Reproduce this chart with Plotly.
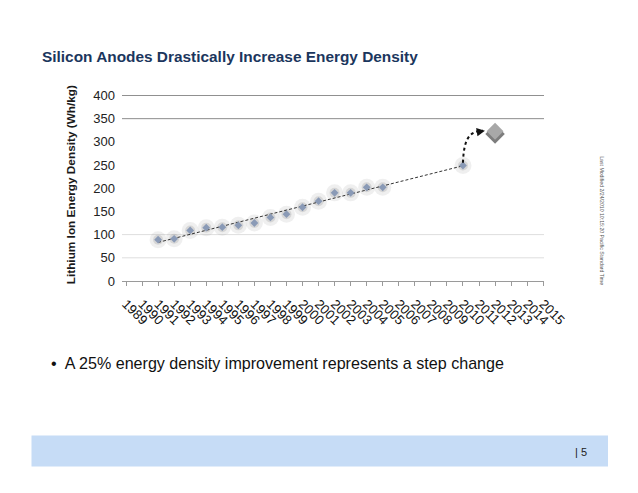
import numpy as np
import plotly.graph_objects as go

# ---- data ----
years = [1991, 1992, 1993, 1994, 1995, 1996, 1997, 1998, 1999, 2000,
         2001, 2002, 2003, 2004, 2005, 2010]
energy_density = [89, 91, 109, 115, 116, 120, 125, 137, 144, 159,
                  172, 190, 190, 202, 202, 249]
silicon_year = [2012]
silicon_density = [322]
tick_years = list(range(1989, 2016))
tick_labels = [str(y) for y in tick_years]
y_ticks = [0, 50, 100, 150, 200, 250, 300, 350, 400]

title_text = "Silicon Anodes Drastically Increase Energy Density"
y_title = "Lithium Ion Energy Density (Wh/kg)"
bullet_text = "\u2022  A 25% energy density improvement represents a step change"
page_text = "| 5"
side_text = "Last Modified 2/24/2010 10:15:20 Pacific Standard Time"

FONT = "Liberation Sans, Arial, sans-serif"

# ---- layout geometry helpers (page body has an 8px margin) ----
W, H = 638, 493
OFF = 8
PW, PH = 422, 186.5
L, T = 122 - OFF, 94.5 - OFF
R, B = W - L - PW, H - T - PH


def px(xp):
    return (xp - OFF - L) / PW


def py(yp):
    return (T + PH - (yp - OFF)) / PH


fig = go.Figure()

# soft shadows behind the data points
fig.add_trace(go.Scatter(x=years, y=energy_density, mode="markers",
                         marker=dict(size=17, color="rgba(165,165,165,0.18)"),
                         hoverinfo="skip", showlegend=False))
fig.add_trace(go.Scatter(x=years, y=energy_density, mode="markers",
                         marker=dict(size=10, color="rgba(150,150,150,0.28)"),
                         hoverinfo="skip", showlegend=False))

# linear trend line (least-squares fit of the data)
coef = np.polyfit(years, energy_density, 1)
trend_x = [years[0], years[-1]]
trend_y = list(np.polyval(coef, trend_x))
fig.add_trace(go.Scatter(x=trend_x, y=trend_y, mode="lines",
                         line=dict(color="#333333", width=1, dash="3px,2px"),
                         hoverinfo="skip", showlegend=False))

# data points
fig.add_trace(go.Scatter(x=years, y=energy_density, mode="markers",
                         marker=dict(symbol="diamond", size=6, color="#8a9ab6"),
                         showlegend=False))

# silicon point (3D-looking diamond)
fig.add_trace(go.Scatter(x=silicon_year, y=[v - 5 for v in silicon_density],
                         mode="markers",
                         marker=dict(symbol="diamond", size=15, color="#7d7d7d"),
                         hoverinfo="skip", showlegend=False))
fig.add_trace(go.Scatter(x=silicon_year, y=[v + 1 for v in silicon_density],
                         mode="markers",
                         marker=dict(symbol="diamond", size=13, color="#a8a8a8"),
                         showlegend=False))

# curved dotted arrow from last point to silicon point
x0, y0 = years[-1], energy_density[-1] + 6
x1, y1 = silicon_year[0] - 0.75, silicon_density[0] + 2
path = f"M {x0},{y0} C {x0 + 0.05},{y0 + 45} {x0 + 0.3},{y1} {x1},{y1}"
shapes = [dict(type="path", path=path, xref="x", yref="y",
               line=dict(color="#111111", width=2, dash="dot"))]

# gridlines (top dark, bottom light, as in reference)
for gv, gc in [(400, "#8c8c8c"), (350, "#8c8c8c"), (100, "#dedede"), (50, "#dedede")]:
    shapes.append(dict(type="line", xref="paper", yref="y", x0=0, x1=1, y0=gv, y1=gv,
                       line=dict(color=gc, width=1), layer="below"))

# footer band
shapes.append(dict(type="rect", xref="paper", yref="paper",
                   x0=px(31.5), x1=px(608), y0=py(467), y1=py(436),
                   fillcolor="#c6dcf6", line=dict(width=0), layer="below"))

annotations = [
    dict(x=x1 + 0.12, y=y1, xref="x", yref="y", text="", showarrow=True,
         ax=-6, ay=1, arrowhead=2, arrowsize=1.1, arrowwidth=1.5, arrowcolor="#111111"),
    dict(x=px(40), y=py(56), xref="paper", yref="paper", text=title_text,
         showarrow=False, xanchor="left", yanchor="middle",
         font=dict(family=FONT, size=15.4, color="#1b365d", weight="bold")),
    dict(x=px(71), y=py(185), xref="paper", yref="paper", text=y_title,
         showarrow=False, textangle=-90, xanchor="center", yanchor="middle",
         font=dict(family=FONT, size=11.8, color="#1a1a1a", weight="bold")),
    dict(x=px(49), y=py(363), xref="paper", yref="paper", text=bullet_text,
         showarrow=False, xanchor="left", yanchor="middle",
         font=dict(family=FONT, size=16.1, color="#111111")),
    dict(x=px(573), y=py(452), xref="paper", yref="paper", text=page_text,
         showarrow=False, xanchor="left", yanchor="middle",
         font=dict(family=FONT, size=11, color="#222222")),
    dict(x=px(602), y=py(220), xref="paper", yref="paper", text=side_text,
         showarrow=False, textangle=90, xanchor="center", yanchor="middle",
         font=dict(family=FONT, size=5.2, color="#555555")),
]

fig.update_layout(
    width=W, height=H,
    margin=dict(l=L, r=R, t=T, b=B),
    paper_bgcolor="white", plot_bgcolor="white",
    showlegend=False,
    font=dict(family=FONT, color="#222222"),
    shapes=shapes, annotations=annotations,
    xaxis=dict(range=[1988.75, 2015.05], tickmode="array", tickvals=tick_years,
               ticktext=tick_labels, tickangle=45, ticks="outside", ticklen=4,
               tickcolor="#9a9a9a", showline=True, linecolor="#9a9a9a",
               showgrid=False, zeroline=False, ticklabelstandoff=5,
               tickfont=dict(family=FONT, size=13.2, color="#111111")),
    yaxis=dict(range=[0, 401], tickmode="array", tickvals=y_ticks,
               showgrid=False, zeroline=False, showline=False, ticks="",
               ticklabelstandoff=6,
               tickfont=dict(family=FONT, size=13, color="#222222")),
)

fig.write_html("out.html")
